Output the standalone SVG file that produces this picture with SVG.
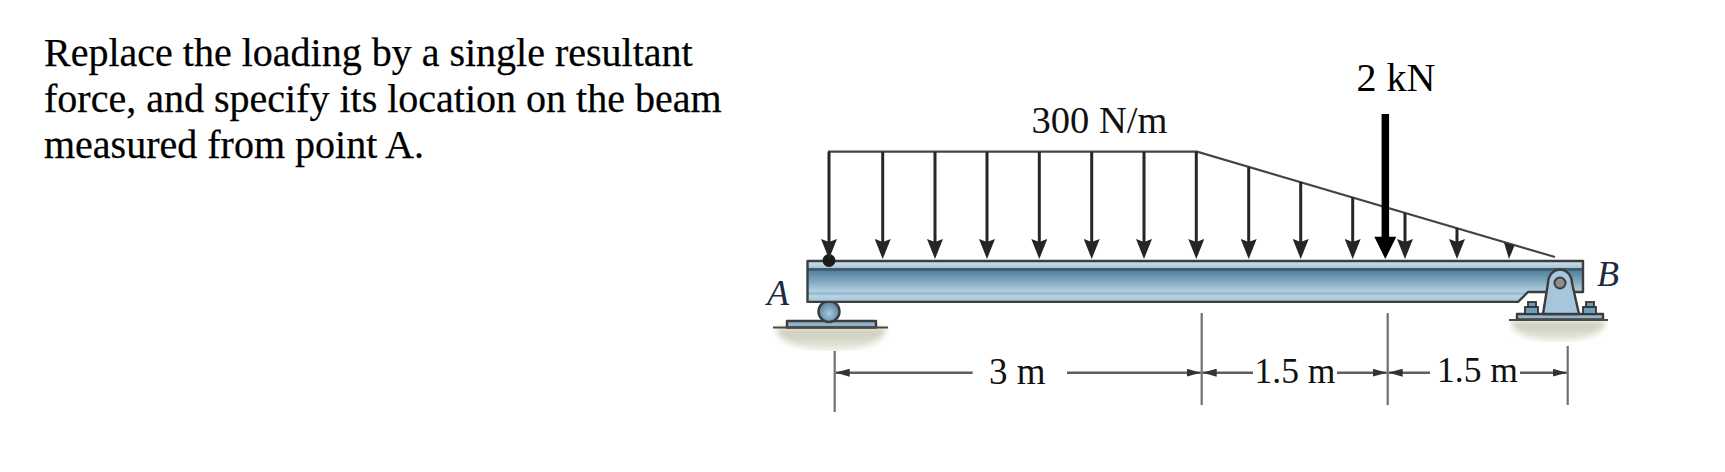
<svg xmlns="http://www.w3.org/2000/svg" width="1725" height="472" viewBox="0 0 1725 472">
<style>
text{font-family:"Liberation Serif","Times New Roman",serif;fill:#111}
.q{font-size:40px;fill:#000;stroke:#000;stroke-width:.25}
.lbl{font-size:37px}
.it{font-size:36px;font-style:italic;fill:#1c2a44}
.load{stroke:#262626;stroke-width:3;fill:none}
.edge{stroke:#4a4a4a;stroke-width:2.2;fill:none}
.dim{stroke:#5e5e5e;stroke-width:2.4;fill:none}
.ext{stroke:#707070;stroke-width:2.2;fill:none}
.part{stroke:#3c3c3c;stroke-width:2.4;stroke-linejoin:round}
.s{filter:url(#aa)}
</style>
<defs>
<linearGradient id="beamFill" gradientUnits="userSpaceOnUse" x1="0" y1="261" x2="0" y2="302">
<stop offset="0" stop-color="#d3e3ec"/><stop offset=".16" stop-color="#a9c7d9"/><stop offset=".18" stop-color="#3f5d70"/><stop offset=".23" stop-color="#3f5d70"/><stop offset=".25" stop-color="#55849e"/><stop offset=".5" stop-color="#7fa8c0"/><stop offset=".74" stop-color="#b4cfdf"/><stop offset=".79" stop-color="#8cb6d0"/><stop offset=".85" stop-color="#b9d3e3"/><stop offset="1" stop-color="#a4c2d5"/>
</linearGradient>
<linearGradient id="shade" x1="0" y1="0" x2="0" y2="1"><stop offset="0" stop-color="#c6c7b4"/><stop offset="1" stop-color="#e9e9df"/></linearGradient>
<radialGradient id="ball" cx=".5" cy=".6" r=".6"><stop offset="0" stop-color="#a9c8da"/><stop offset="1" stop-color="#4f7f9b"/></radialGradient>
<filter id="soft" x="-10%" y="-40%" width="120%" height="180%"><feGaussianBlur stdDeviation="3"/></filter>
<filter id="aa" x="-2%" y="-2%" width="104%" height="104%"><feGaussianBlur stdDeviation=".5"/></filter>
<marker id="ah" markerUnits="userSpaceOnUse" viewBox="0 -8 20 16" refX="10" refY="0" markerWidth="20" markerHeight="16" orient="auto"><path d="M0,-8 L20,0 L0,8 L3,0Z" fill="#262626"/></marker>
<marker id="dh" markerUnits="userSpaceOnUse" viewBox="0 -4 14 8" refX="14" refY="0" markerWidth="14" markerHeight="8" orient="auto"><path d="M0,-4 L14,0 L0,4Z" fill="#333"/></marker>
</defs>
<rect width="1725" height="472" fill="#fff"/>

<g id="problem-text">
<text class="q" x="44" y="66">Replace the loading by a single resultant</text>
<text class="q" x="44" y="112">force, and specify its location on the beam</text>
<text class="q" x="44" y="158">measured from point A.</text>
</g>

<g id="support-A" class="s">
<path d="M776,328 H886 C884,344 860,350 832,350 C804,350 778,344 776,328Z" fill="url(#shade)" filter="url(#soft)"/>
<rect class="part" x="787" y="321" width="89" height="6.5" fill="#8fb3c9"/>
<line x1="773" y1="327.5" x2="888" y2="327.5" class="edge"/>
<circle class="part" cx="829" cy="311.5" r="10.5" fill="url(#ball)"/>
</g>

<g id="support-B" class="s">
<path d="M1511,321 H1606 C1604,334 1584,341 1558,341 C1532,341 1513,334 1511,321Z" fill="url(#shade)" filter="url(#soft)"/>
</g>

<g id="beam" class="s">
<path class="part" d="M807.5,261 H1583 V292 H1528 L1518,302 H807.5Z" fill="url(#beamFill)"/>
<circle cx="829" cy="260.5" r="6.5" fill="#1c1c1c"/>
</g>

<g id="support-B-bracket" class="s">
<rect class="part" x="1517" y="314" width="86" height="5.5" fill="#8fb6cd"/>
<line x1="1509" y1="320" x2="1608" y2="320" class="edge"/>
<path class="part" d="M1543,314 L1548,283 C1549,265 1571,265 1572,283 L1579,314Z" fill="#a6c7db"/>
<circle cx="1560" cy="283" r="5.5" fill="#8d8d8d" stroke="#3c3c3c" stroke-width="2"/>
<g fill="#6f9db8" stroke="#333" stroke-width="1.8">
<rect x="1528" y="302" width="8" height="5"/><rect x="1525" y="307" width="13" height="7"/>
<rect x="1586" y="302" width="8" height="5"/><rect x="1583" y="307" width="13" height="7"/>
</g>
</g>

<g id="connectors" class="s">
<path d="M828,151.7 H1197 L1555,257" fill="none" stroke="#444" stroke-width="2.2"/>
<g class="load">
<line x1="829" y1="151.7" x2="829" y2="249" marker-end="url(#ah)"/>
<line x1="882.7" y1="151.7" x2="882.7" y2="249" marker-end="url(#ah)"/>
<line x1="935" y1="151.7" x2="935" y2="249" marker-end="url(#ah)"/>
<line x1="987" y1="151.7" x2="987" y2="249" marker-end="url(#ah)"/>
<line x1="1039.3" y1="151.7" x2="1039.3" y2="249" marker-end="url(#ah)"/>
<line x1="1091.7" y1="151.7" x2="1091.7" y2="249" marker-end="url(#ah)"/>
<line x1="1144" y1="151.7" x2="1144" y2="249" marker-end="url(#ah)"/>
<line x1="1196.3" y1="151.7" x2="1196.3" y2="249" marker-end="url(#ah)"/>
<line x1="1248.7" y1="167" x2="1248.7" y2="249" marker-end="url(#ah)"/>
<line x1="1300.7" y1="182" x2="1300.7" y2="249" marker-end="url(#ah)"/>
<line x1="1352.7" y1="197.5" x2="1352.7" y2="249" marker-end="url(#ah)"/>
<line x1="1405" y1="213" x2="1405" y2="249" marker-end="url(#ah)"/>
<line x1="1457" y1="228" x2="1457" y2="249" marker-end="url(#ah)"/>
</g>
<path d="M1504,242.5 L1514.5,245.5 L1509,259Z" fill="#262626"/>
<path d="M1381.6,114 H1389.1 V236.7 H1396.3 L1385.3,259 L1374.3,236.7 H1381.6Z" fill="#000"/>
<g class="ext">
<line x1="834.7" y1="351" x2="834.7" y2="412"/>
<line x1="1201.7" y1="313" x2="1201.7" y2="405"/>
<line x1="1387.7" y1="313" x2="1387.7" y2="405"/>
<line x1="1567.7" y1="346" x2="1567.7" y2="405"/>
</g>
<g class="dim">
<line x1="972.7" y1="372.7" x2="835.7" y2="372.7" marker-end="url(#dh)"/>
<line x1="1067" y1="372.7" x2="1200.7" y2="372.7" marker-end="url(#dh)"/>
<line x1="1253" y1="372.7" x2="1202.7" y2="372.7" marker-end="url(#dh)"/>
<line x1="1337" y1="372.7" x2="1386.7" y2="372.7" marker-end="url(#dh)"/>
<line x1="1430" y1="372.7" x2="1388.7" y2="372.7" marker-end="url(#dh)"/>
<line x1="1520" y1="372.7" x2="1566.7" y2="372.7" marker-end="url(#dh)"/>
</g>
</g>

<g id="labels">
<text class="lbl" x="1031.5" y="133" style="font-size:38.5px">300 N/m</text>
<text class="lbl" x="1356.5" y="91" style="font-size:40px;fill:#000">2 kN</text>
<text class="lbl" x="989" y="384">3 m</text>
<text class="lbl" x="1254.5" y="383" style="font-size:35.5px">1.5 m</text>
<text class="lbl" x="1437" y="382" style="font-size:35.5px">1.5 m</text>
<text class="it" x="767" y="305">A</text>
<text class="it" x="1597" y="286">B</text>
</g>
</svg>
